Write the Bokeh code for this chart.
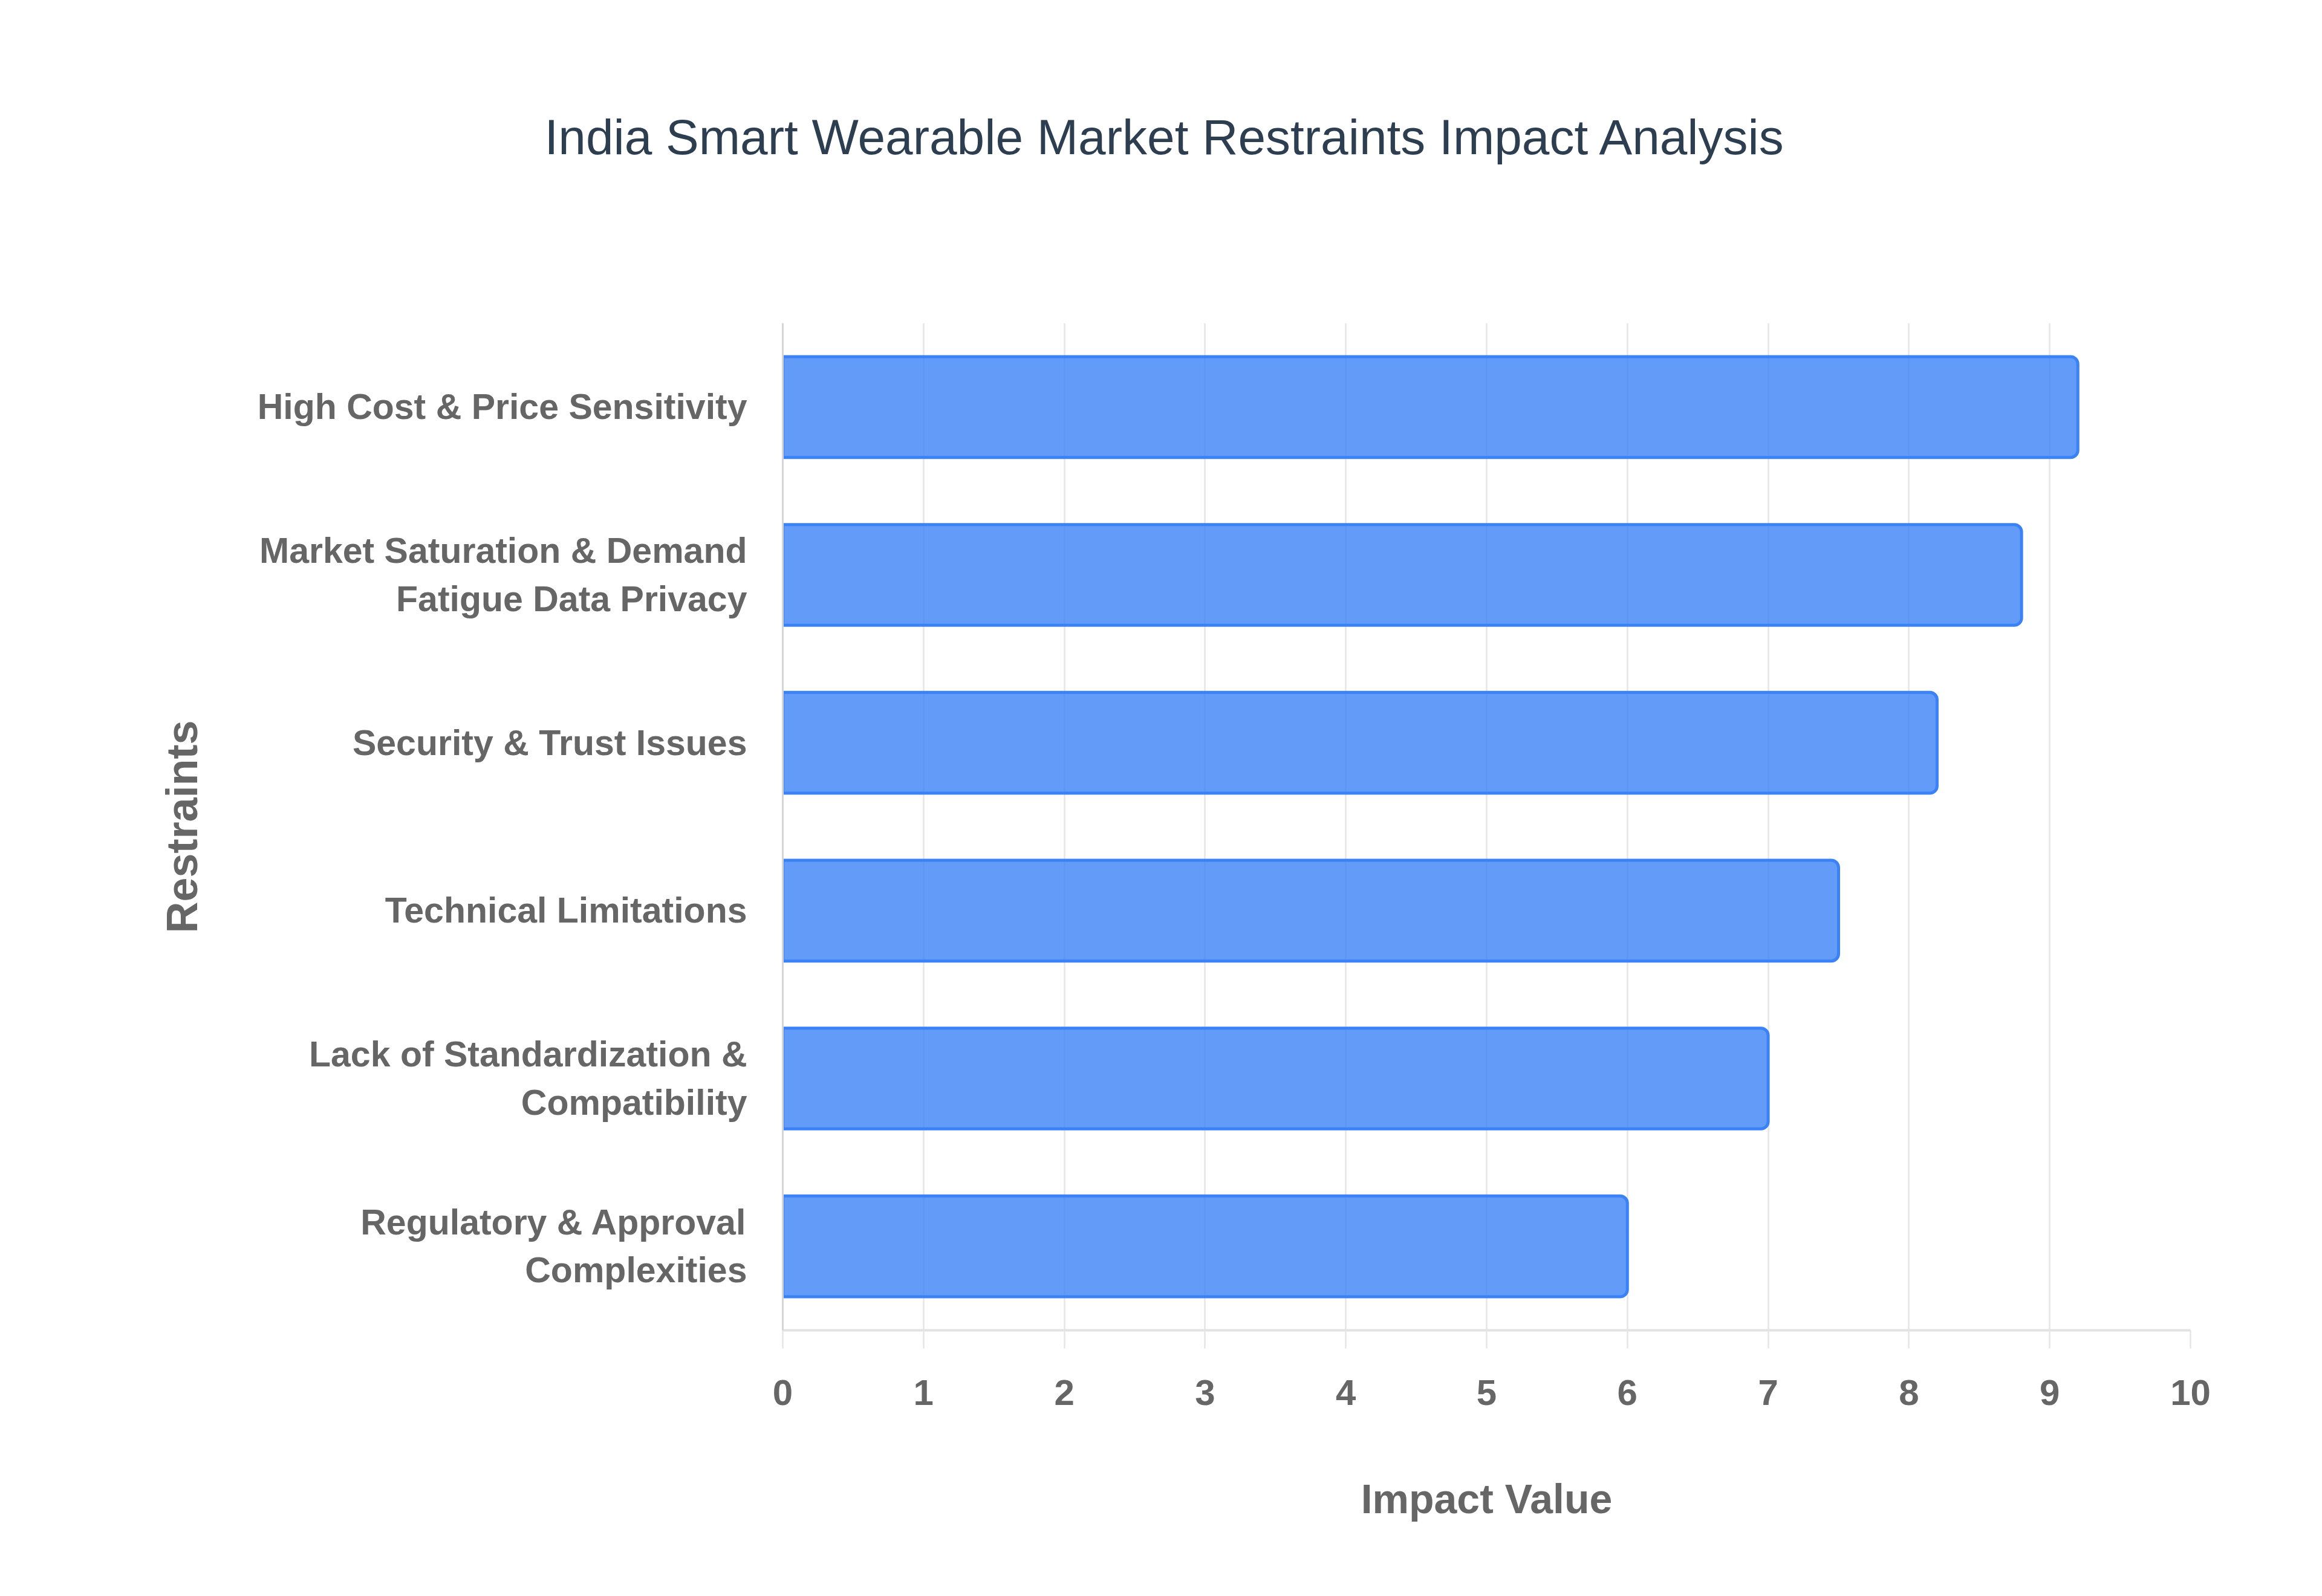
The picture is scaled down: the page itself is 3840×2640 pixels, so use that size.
from bokeh.plotting import figure
from bokeh.models import FactorRange, Range1d, FixedTicker, ColumnDataSource, Title
from bokeh.embed import file_html
from bokeh.resources import INLINE

title_text = "India Smart Wearable Market Restraints Impact Analysis"
categories = [
    "High Cost & Price Sensitivity",
    "Market Saturation & Demand\nFatigue Data Privacy",
    "Security & Trust Issues",
    "Technical Limitations",
    "Lack of Standardization &\nCompatibility",
    "Regulatory & Approval\nComplexities",
]
impact = [9.2, 8.8, 8.2, 7.5, 7.0, 6.0]
x_ticks = [0, 1, 2, 3, 4, 5, 6, 7, 8, 9, 10]
x_label = "Impact Value"
y_label = "Restraints"

SANS = "Liberation Sans"
GRAY = "#666666"

src = ColumnDataSource(dict(cat=categories, val=impact))

p = figure(
    width=3824, height=2624,
    y_range=FactorRange(factors=list(reversed(categories))),
    x_range=Range1d(0, 10),
    output_backend="svg", toolbar_location=None,
    min_border_left=1294, min_border_right=202,
    min_border_top=534, min_border_bottom=424,
)
p.outline_line_color = None
p.background_fill_color = "white"
p.title.text = ""
p.title.standoff = 0

p.hbar(y="cat", right="val", left=0, height=0.6, source=src,
       fill_color="#3b82f6", fill_alpha=0.8,
       line_color="#3b82f6", line_width=5,
       border_radius=(0, 12, 12, 0))

# spacer between frame and title, then the title itself
spacer = Title(text=" ", text_font_size="10px", standoff=240)
p.add_layout(spacer, "above")
main_title = Title(text=title_text, text_font=SANS, text_font_style="normal",
                   text_font_size="82px", text_color="#2c3e50",
                   align="left", offset=-394, standoff=20)
p.add_layout(main_title, "above")

# x axis
xa = p.xaxis[0]
xa.ticker = FixedTicker(ticks=x_ticks)
xa.axis_line_color = "#e2e2e2"
xa.axis_line_width = 4
xa.major_tick_line_color = "#e6e6e6"
xa.major_tick_line_width = 2.5
xa.major_tick_in = 0
xa.major_tick_out = 30
xa.minor_tick_line_color = None
xa.major_label_text_font = SANS
xa.major_label_text_font_style = "bold"
xa.major_label_text_font_size = "60px"
xa.major_label_text_color = GRAY
xa.major_label_standoff = 52
xa.axis_label = x_label
xa.axis_label_text_font = SANS
xa.axis_label_text_font_style = "bold"
xa.axis_label_text_font_size = "68px"
xa.axis_label_text_color = GRAY
xa.axis_label_standoff = 114

# y axis
ya = p.yaxis[0]
ya.axis_line_color = "#d6d6d6"
ya.axis_line_width = 3
ya.major_tick_line_color = None
ya.minor_tick_line_color = None
ya.major_label_text_font = SANS
ya.major_label_text_font_style = "bold"
ya.major_label_text_font_size = "59px"
ya.major_label_text_color = GRAY
ya.major_label_text_line_height = 1.2
ya.major_label_standoff = 53
ya.axis_label = y_label
ya.axis_label_text_font = SANS
ya.axis_label_text_font_style = "bold"
ya.axis_label_text_font_size = "72px"
ya.axis_label_text_color = GRAY
ya.axis_label_standoff = 82

p.xgrid.grid_line_color = "#e6e6e6"
p.xgrid.grid_line_width = 2.5
p.ygrid.grid_line_color = None

open("out.html", "w").write(file_html(p, INLINE))
